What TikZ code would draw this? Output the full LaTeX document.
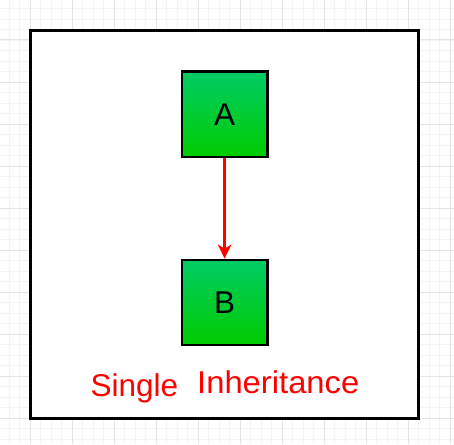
\documentclass[tikz,border=0pt]{standalone}
\usepackage{fontspec}
\setmainfont{Liberation Sans}
\usetikzlibrary{arrows.meta}
\definecolor{gtop}{RGB}{0,204,102}
\definecolor{gbot}{RGB}{0,204,0}
\definecolor{gridminor}{RGB}{244,244,244}
\definecolor{gridmajor}{RGB}{228,228,228}
\definecolor{lblred}{RGB}{255,0,0}
\begin{document}
\begin{tikzpicture}[x=1pt,y=-1pt,
  classbox/.style={draw=black, line width=2.5pt, top color=gtop, bottom color=gbot,
    minimum size=85.3pt, inner sep=0pt, font=\fontsize{31.5}{38}\selectfont},
  inherit/.style={draw=lblred, line width=2.3pt, -{Stealth[length=14pt,width=13.5pt,inset=4pt]}},
  lbltext/.style={text=lblred, inner sep=0pt, font=\fontsize{31.5}{38}\selectfont},
  gridmin/.style={draw=gridminor, line width=0.8pt},
  gridmaj/.style={draw=gridmajor, line width=1pt}]
\useasboundingbox (0,0) rectangle (454,444);
\fill[white] (0,0) rectangle (454,444);
\foreach \i in {0,...,44} \draw[gridmin] ({-12+10.5*\i},0) -- ({-12+10.5*\i},444);
\foreach \i in {0,...,43} \draw[gridmin] (0,{-2+10.5*\i}) -- (454,{-2+10.5*\i});
\foreach \i in {0,...,11} \draw[gridmaj] ({-12+42*\i},0) -- ({-12+42*\i},444);
\foreach \i in {0,...,11} \draw[gridmaj] (0,{-2+42*\i}) -- (454,{-2+42*\i});
\draw[line width=3pt, fill=white] (30.7,30.7) rectangle (418.2,418.2);
\node[classbox] (A) at (224.6,114.2) {A};
\node[classbox] (B) at (224.6,302.5) {B};
\draw[inherit] (A) -- (B);
\node[lbltext, anchor=base west] (single) at (90.5,396.7) {Single};
\node[lbltext, anchor=base west, xscale=1.04] (inh) at (197,393.3) {Inheritance};
\end{tikzpicture}
\end{document}
